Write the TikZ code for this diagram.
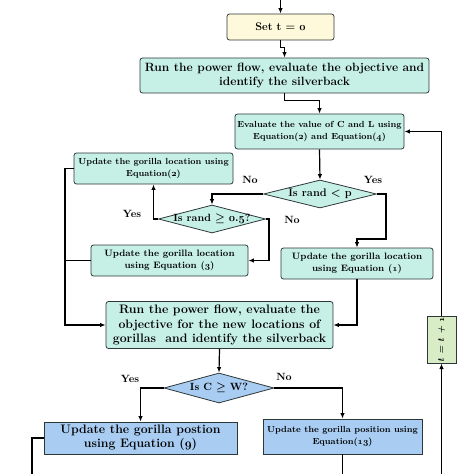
\documentclass[tikz,border=0pt]{standalone}
\usetikzlibrary{shapes.geometric,arrows.meta,calc}
\definecolor{yelfill}{RGB}{254,249,218}
\definecolor{cyfill}{RGB}{198,240,230}
\definecolor{blfill}{RGB}{168,204,242}
\definecolor{grfill}{RGB}{216,236,198}
\definecolor{edge}{RGB}{45,55,55}
\newcommand{\fs}[2]{\fontsize{#1}{#2}\selectfont\bfseries}
\newcommand{\osn}[1]{{\boldmath$\mathnormal{#1}$}}
\begin{document}
\begin{tikzpicture}[x=1pt,y=-1pt,
  box/.style={draw=edge, line width=0.8pt, rounded corners=2.5pt, fill=cyfill, align=center, inner sep=1pt},
  sqbox/.style={draw=edge, line width=0.8pt, fill=blfill, align=center, inner sep=1pt},
  dia/.style={diamond, draw=edge, line width=0.8pt, fill=cyfill, inner sep=0pt, align=center},
  arr/.style={line width=1.2pt, -{Latex[length=5.5pt,width=4.5pt]}},
  ln/.style={line width=1.2pt},
  lbl/.style={font=\fs{10.5}{10.5}, inner sep=0pt}]
\useasboundingbox (0,0) rectangle (474,474);

% nodes
\node[box, fill=yelfill, minimum width=107pt, minimum height=26pt, font=\fs{11}{11}] (set) at (280.5,27) {Set t = \osn{0}};
\node[box, minimum width=289pt, minimum height=35pt, font=\fs{12}{13.5}] (run1) at (284.5,75.5)
  {Run the power flow, evaluate the objective and\\identify the silverback};
\node[box, minimum width=169pt, minimum height=35pt, font=\fs{8.8}{11.5}] (eval) at (319.5,131.5)
  {Evaluate the value of C and L using\\Equation(\osn{2}) and Equation(\osn{4})};
\node[dia, minimum width=113pt, minimum height=28pt, font=\fs{11}{11}] (d1) at (320,194) {\makebox[0pt]{Is rand {\boldmath$<$}\ p}};
\node[box, minimum width=159pt, minimum height=31pt, font=\fs{8.8}{11.5}] (up2) at (153.5,168.5)
  {Update the gorilla location using\\Equation(\osn{2})};
\node[dia, minimum width=107pt, minimum height=28pt, font=\fs{10.5}{10.5}] (d2) at (212,219) {\makebox[0pt]{Is rand {\boldmath$\geq$}\ \osn{0.5}?}};
\node[box, minimum width=157pt, minimum height=31pt, font=\fs{9.3}{12}] (up3) at (169.5,260.5)
  {Update the gorilla location\\using Equation (\osn{3})};
\node[box, minimum width=152pt, minimum height=31pt, font=\fs{9.3}{12}] (up1) at (357,263.5)
  {Update the gorilla location\\using Equation (\osn{1})};
\node[box, minimum width=227pt, minimum height=47pt, font=\fs{12.3}{14.3}] (run2) at (219.5,325)
  {Run the power flow, evaluate the\\objective for the new locations of\\gorillas\ \ and identify the silverback};
\node[dia, fill=blfill, minimum width=110pt, minimum height=30pt, font=\fs{10.5}{10.5}] (d3) at (219,388) {\makebox[0pt]{Is C {\boldmath$\geq$}\ W?}};
\node[sqbox, minimum width=193pt, minimum height=32pt, font=\fs{12.3}{14.5}] (up9) at (140.5,438)
  {Update the gorilla postion\\using Equation (\osn{9})};
\node[sqbox, minimum width=159pt, minimum height=35pt, font=\fs{8.8}{11.5}] (up13) at (342.5,436.5)
  {Update the gorilla position using\\Equation(\osn{13})};
\node[draw=edge, line width=0.8pt, fill=grfill, minimum width=47pt, minimum height=29pt, rotate=90, inner sep=1pt, font=\fs{9.5}{9.5}\itshape] (tb) at (441.5,339.5)
  {t = t + \osn{1}};

% labels
\node[lbl] (no1) at (250,180) {No};
\node[lbl] (yes1) at (373,180) {Yes};
\node[lbl] (yes2) at (132,214) {Yes};
\node[lbl] (no2) at (292,220) {No};
\node[lbl] (yes3) at (130,379) {Yes};
\node[lbl] (no3) at (284,377) {No};

% free ends
\coordinate (top) at (280.5,0);
\coordinate (bus) at (65,0);
\coordinate (b13) at (342.5,474);
\coordinate (b9) at (32,474);
\coordinate (bt) at (441.5,474);

% connectors
\draw[arr] (top) -- (set.north);
\draw[arr] (set.south) -- ++(0,7) -| (run1.north);
\draw[arr] (run1.south) -- ++(0,7) -| (eval.north);
\draw[arr] (eval.south) -- (d1.north);
\draw[arr] (d1.west) -| (d2.north);
\draw[arr] (d2.west) -| (up2.south);
\draw[arr] (d2.east) -- ++(3,0) |- (up3.east);
\draw[arr] (d1.east) -- ++(9,0) -- ++(0,45) -| (up1.north);
\draw[arr] (up1.south) |- (run2.east);
\draw[arr] (up2.west) -| (bus |- run2.west) -- (run2.west);
\draw[ln] (up3.west) -- (up3.west -| bus);
\draw[arr] (run2.south) -- (d3.north);
\draw[arr] (d3.west) -| (up9.north);
\draw[arr] (d3.east) -| (up13.north);
\draw[ln] (up13.south) -- (b13);
\draw[ln] (up9.west) -- (up9.west -| b9) -- (b9);
\draw[arr] (bt) -- (tb.west);
\draw[arr] (tb.east) |- (eval.east);
\end{tikzpicture}
\end{document}
